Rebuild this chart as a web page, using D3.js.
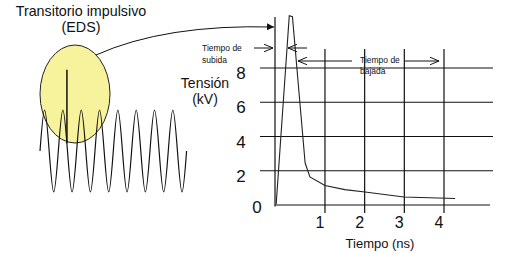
<!DOCTYPE html>
<html><head><meta charset="utf-8">
<script src="https://cdn.jsdelivr.net/npm/d3@7"></script>
<style>html,body{margin:0;padding:0;background:#fff;}svg{display:block;}text{font-family:"Liberation Sans",Arial,sans-serif;fill:#111;}</style>
</head><body>
<svg id="c" width="514" height="254"></svg>
<script>
// ---- data ----
const yTicks = [0, 2, 4, 6, 8];          // kV
const xTicks = [1, 2, 3, 4];             // ns
const pulseTime = [-0.23, 0.10, 0.18, 0.50, 0.62, 1.0, 1.5, 2.01, 2.99, 4.28];
const pulseKV   = [0.05, 11.05, 11.0, 2.45, 1.64, 1.14, 0.9, 0.76, 0.47, 0.38];
// background AC wave (8 cycles, sampled each quarter period)
const waveValues = [0,1,0,-1, 0,1,0,-1, 0,1,0,-1, 0,1,0,-1, 0,1,0,-1, 0,1,0,-1, 0,1,0,-1, 0,1,0,-1, 0];
const spikePhase = 1.47, spikeBase = 0.19, spikeTop = 1.98;
const titleLines = ["Transitorio impulsivo", "(EDS)"];
const yTitle = ["Tensión", "(kV)"];
const xTitle = "Tiempo (ns)";
const riseLabel = ["Tiempo de", "subida"];
const fallLabel = ["Tiempo de", "bajada"];

const svg = d3.select("#c");
const x = d3.scaleLinear().domain([0, 4]).range([285.3, 444]);
const y = d3.scaleLinear().domain([0, 8]).range([205, 68]);

const defs = svg.append("defs");
defs.append("marker").attr("id","open").attr("viewBox","0 0 10 10").attr("refX",10).attr("refY",5)
  .attr("markerWidth",9).attr("markerHeight",9).attr("markerUnits","userSpaceOnUse").attr("orient","auto")
  .append("path").attr("d","M0,0.8 L10,5 L0,9.2").attr("fill","none").attr("stroke","#111").attr("stroke-width",1.1);
defs.append("marker").attr("id","solid").attr("viewBox","0 0 10 10").attr("refX",10).attr("refY",5)
  .attr("markerWidth",7).attr("markerHeight",7).attr("markerUnits","userSpaceOnUse").attr("orient","auto")
  .append("path").attr("d","M0,0 L10,5 L0,10 Z").attr("fill","#111");

// ---- left illustration ----
const wx = d3.scaleLinear().domain([0, 8]).range([40, 186.6]);
const wy = d3.scaleLinear().domain([-1, 1]).range([192, 110]);
svg.append("ellipse").attr("cx",75).attr("cy",94).attr("rx",35).attr("ry",49)
  .attr("fill","#f7f39c").attr("stroke","#222").attr("stroke-width",1);
svg.append("path").datum(waveValues)
  .attr("d", d3.line().x((d,i)=>wx(i/4)).y(d=>wy(d)).curve(d3.curveNatural))
  .attr("fill","none").attr("stroke","#111").attr("stroke-width",1.2);
svg.append("line").attr("x1",wx(spikePhase)).attr("x2",wx(spikePhase))
  .attr("y1",wy(spikeBase)).attr("y2",wy(spikeTop)).attr("stroke","#111").attr("stroke-width",1.5);

svg.append("text").attr("x",81).attr("y",16).attr("text-anchor","middle").attr("font-size",14.3).text(titleLines[0]);
svg.append("text").attr("x",81).attr("y",32).attr("text-anchor","middle").attr("font-size",14.3).text(titleLines[1]);

// connector
svg.append("path").attr("d","M96,55 Q165,24 274,27").attr("fill","none").attr("stroke","#111")
  .attr("stroke-width",1).attr("marker-end","url(#solid)");

// ---- chart grid ----
const g = svg.append("g").attr("stroke","#111").attr("stroke-width",1.2);
g.selectAll(".hg").data(yTicks.filter(v=>v>0)).join("line")
  .attr("x1",260).attr("x2",493).attr("y1",d=>y(d)).attr("y2",d=>y(d));
g.append("line").attr("x1",275).attr("x2",490).attr("y1",y(0)).attr("y2",y(0));
g.selectAll(".vg").data(xTicks).join("line")
  .attr("x1",d=>x(d)).attr("x2",d=>x(d)).attr("y1",49).attr("y2",213);
g.append("line").attr("x1",275).attr("x2",275).attr("y1",17).attr("y2",206.5);

// pulse
svg.append("path").datum(pulseTime.map((t,i)=>[t,pulseKV[i]]))
  .attr("d", d3.line().x(d=>x(d[0])).y(d=>y(d[1])))
  .attr("fill","none").attr("stroke","#222").attr("stroke-width",1.1);

// tick labels
svg.selectAll(".yl").data(yTicks).join("text")
  .attr("x",d=>d===0?257:241).attr("y",d=>y(d)+(d===0?8:11))
  .attr("text-anchor","middle").attr("font-size",17).text(d=>d);
svg.selectAll(".xl").data(xTicks).join("text")
  .attr("x",d=>x(d)-5).attr("y",228).attr("text-anchor","middle").attr("font-size",16).text(d=>d);

// axis titles
svg.append("text").attr("x",205).attr("y",88).attr("text-anchor","middle").attr("font-size",14).text(yTitle[0]);
svg.append("text").attr("x",205).attr("y",104).attr("text-anchor","middle").attr("font-size",14).text(yTitle[1]);
svg.append("text").attr("x",380).attr("y",248).attr("text-anchor","middle").attr("font-size",13).text(xTitle);

// rise/fall annotations
svg.append("text").attr("x",202).attr("y",51).attr("font-size",8.5).text(riseLabel[0]);
svg.append("text").attr("x",202).attr("y",63).attr("font-size",8.5).text(riseLabel[1]);
svg.append("text").attr("x",360).attr("y",63).attr("font-size",8.5).text(fallLabel[0]);
svg.append("text").attr("x",360).attr("y",74).attr("font-size",8.5).text(fallLabel[1]);

const arrows = [[254,48,273,48],[307,48,288,48],[352,61,298,61],[405,61,439,61]];
svg.selectAll(".ar").data(arrows).join("line")
  .attr("x1",d=>d[0]).attr("y1",d=>d[1]).attr("x2",d=>d[2]).attr("y2",d=>d[3])
  .attr("stroke","#111").attr("stroke-width",1).attr("marker-end","url(#open)");
</script>
</body></html>
